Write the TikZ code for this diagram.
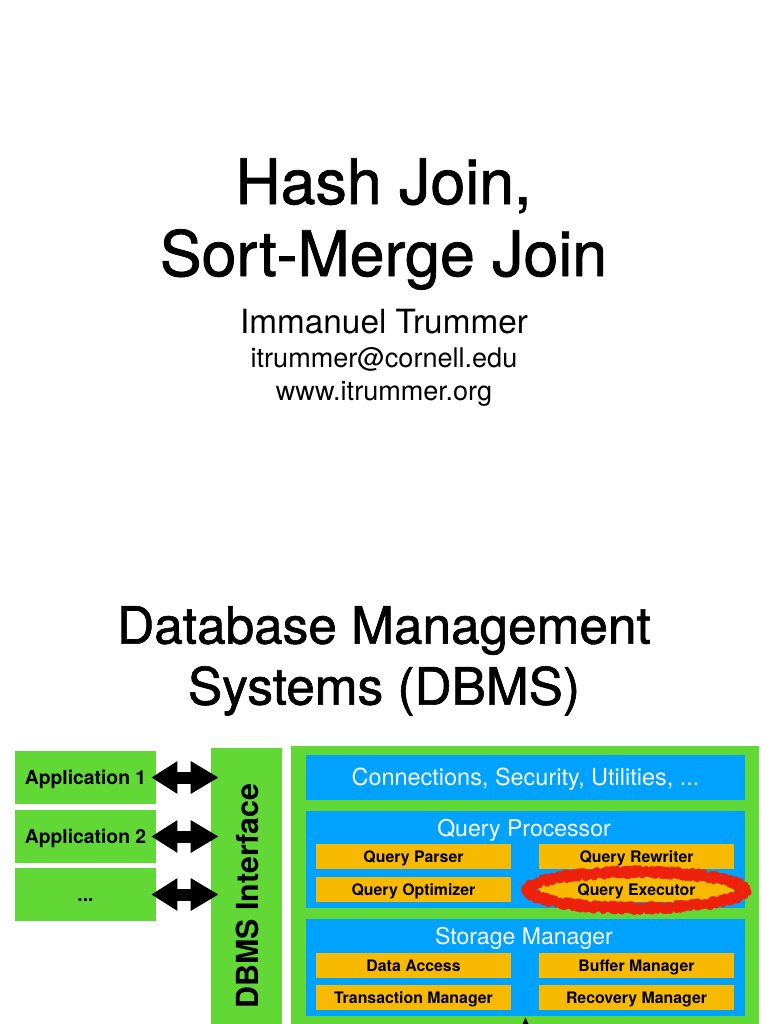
\documentclass[tikz,border=0pt]{standalone}
\usepackage{fontspec}
\setmainfont{TeX Gyre Heros}
\newfontfamily\titlefont[FakeBold=1.2]{TeX Gyre Heros}
\usetikzlibrary{positioning,backgrounds,arrows.meta,decorations.pathmorphing}

\definecolor{dbmsgreen}{RGB}{97,216,54}
\definecolor{dbmsblue}{RGB}{0,162,255}
\definecolor{dbmsorange}{RGB}{248,186,0}
\definecolor{dbmsred}{RGB}{238,34,12}

\begin{document}
\begin{tikzpicture}[%
    x=0.75pt, y=-0.75pt,
    titletext/.style={
        align=center,
        font=\titlefont\fontsize{47}{54}\selectfont
        },
    apptext/.style={
        fill=dbmsgreen,
        minimum width=105.75pt,
        minimum height=39.75pt,
        inner sep=0pt,
        text height=12pt,
        text depth=1pt,
        font=\fontsize{14.5}{16}\selectfont\bfseries
        },
    layerbox/.style={
        fill=dbmsblue,
        text=white,
        minimum width=329.25pt,
        inner sep=0pt
        },
    layertext/.style={
        text=white,
        font=\fontsize{17.3}{20}\selectfont
        },
    compbox/.style={
        fill=dbmsorange,
        minimum width=146.25pt,
        minimum height=18.75pt,
        inner sep=0pt,
        text height=10.5pt,
        text depth=1.2pt,
        font=\fontsize{11.9}{13}\selectfont\bfseries
        },
    bothways/.style={
        {Triangle[length=19.5pt,width=23pt]}-{Triangle[length=21pt,width=23pt]},
        line width=9pt
        },
    scribble/.style={
        dbmsred,
        line width=4.4pt,
        line join=round,
        decorate,
        decoration={random steps,segment length=1pt,amplitude=1.7pt}
        }
]
\useasboundingbox (0,0) rectangle (768,1024);

% title slide
\node[titletext] (title) at (383.5,224) {Hash Join,\\Sort-Merge Join};
\node[font=\fontsize{25}{28}\selectfont] (author) at (384,322) {Immanuel Trummer};
\node[font=\fontsize{20.3}{24.75}\selectfont,align=center] (contact) at (384,376.5) {itrummer@cornell.edu\\www.itrummer.org};

\node[titletext,font=\titlefont\fontsize{38.5}{45.7}\selectfont] (heading) at (384,661) {Database Management\\Systems (DBMS)};

% applications
\node[apptext] (app1) at (85.5,777.5) {Application 1};
\node[apptext] (app2) at (85.5,836.5) {Application 2};
\node[apptext] (app3) at (85.5,894.5) {...};

\node[fill=dbmsgreen,minimum width=53.25pt,minimum height=207.75pt,inner sep=0pt] (interface) at (246.5,886.5) {};
\node[rotate=90,font=\fontsize{22.8}{25}\selectfont\bfseries] (interfacetext) at (247,896) {DBMS Interface};

\draw[bothways] ([xshift=-3.75pt]app1.east) -- ([xshift=6pt]interface.west|-app1.east);
\draw[bothways] ([xshift=-3.75pt]app2.east) -- ([xshift=6pt]interface.west|-app2.east);
\draw[bothways] ([xshift=-3.75pt]app3.east) -- ([xshift=6pt]interface.west|-app3.east);

% system
\node[fill=dbmsgreen,minimum width=351pt,minimum height=209.25pt,inner sep=0pt] (system) at (525,885.5) {};

\node[layerbox,minimum height=33.75pt,text height=14pt,text depth=2.3pt,font=\fontsize{17.6}{20}\selectfont] (connections) at (525.5,777.5) {Connections, Security, Utilities, ...};

\node[layerbox,minimum height=72.75pt] (processor) at (525.5,859.5) {};
\node[layertext] (processortext) at (524,830) {Query Processor};
\node[compbox] (parser) at (413.5,856.5) {Query Parser};
\node[compbox] (rewriter) at (636.5,856.5) {Query Rewriter};
\node[compbox] (optimizer) at (413.5,889.5) {Query Optimizer};
\node[compbox] (executor) at (636.5,889.5) {Query Executor};

\node[layerbox,minimum height=72.75pt] (storage) at (525.5,967.5) {};
\node[layertext] (storagetext) at (524,938) {Storage Manager};
\node[compbox] (access) at (413.5,965) {Data Access};
\node[compbox] (buffer) at (636.5,965) {Buffer Manager};
\node[compbox] (transaction) at (413.5,997.5) {Transaction Manager};
\node[compbox] (recovery) at (636.5,997.5) {Recovery Manager};

\coordinate (below) at (525.5,1045);
\draw[-{Triangle[length=20pt,width=15pt]},line width=6pt] (below) -- (storage.south);

% highlight
\draw[scribble] ([yshift=-0.4pt]executor.center) ellipse [x radius=111,y radius=20];
\draw[scribble] ([yshift=-0.4pt]executor.center) ellipse [x radius=104,y radius=16];
\end{tikzpicture}
\end{document}
